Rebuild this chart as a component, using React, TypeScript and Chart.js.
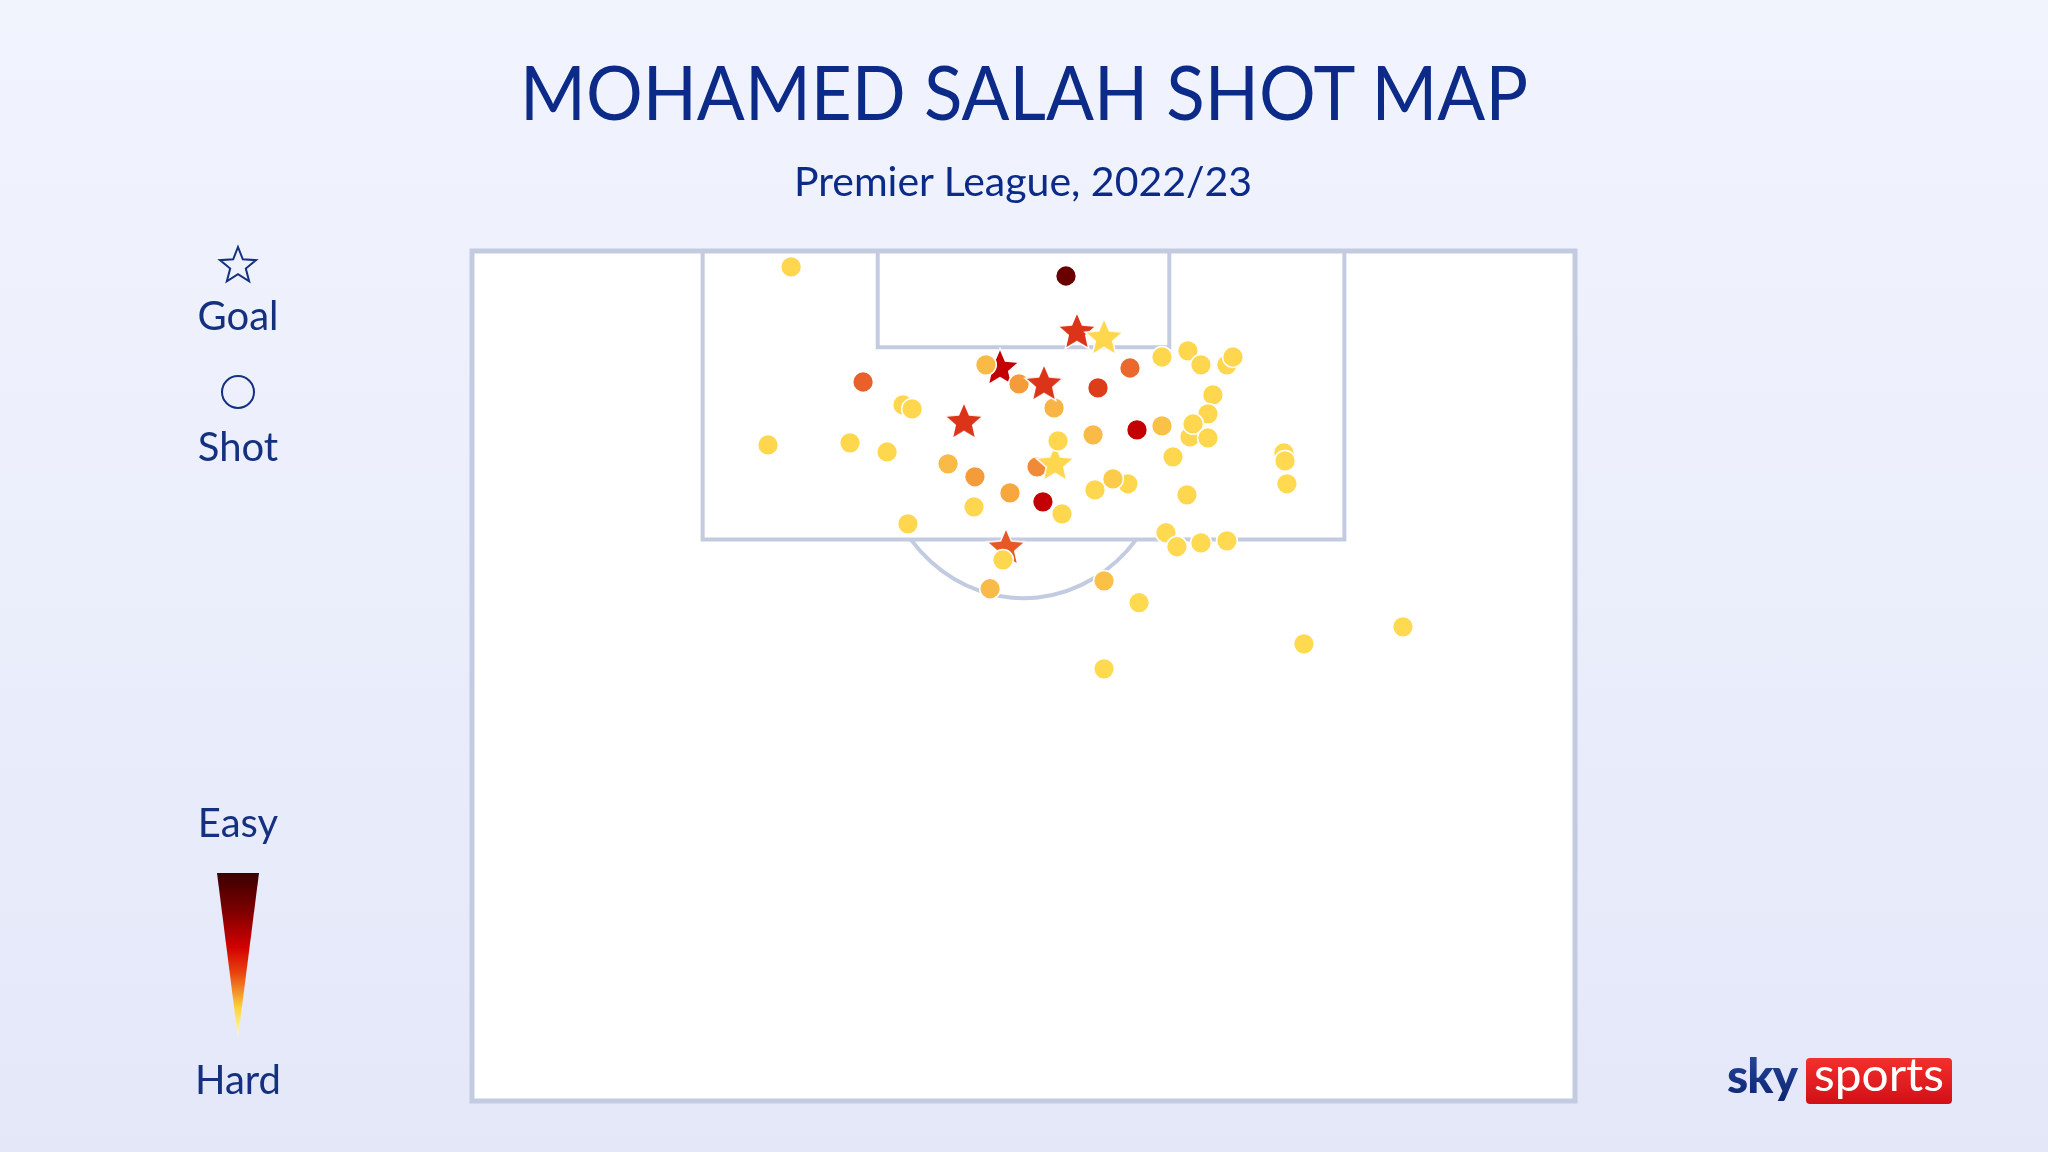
import React, { useEffect, useRef } from "react";
import { Chart, registerables } from "chart.js";

Chart.register(...registerables);

const TITLE = "MOHAMED SALAH SHOT MAP";
const SUBTITLE = "Premier League, 2022/23";
const LEGEND_GOAL = "Goal";
const LEGEND_SHOT = "Shot";
const SCALE_TOP = "Easy";
const SCALE_BOTTOM = "Hard";

// pitch geometry (metres)
const PITCH_WIDTH = 69.3;
const PITCH_DEPTH = 48.6;
const BOX_WIDTH = 40.32;
const BOX_DEPTH = 16.5;
const SIX_WIDTH = 18.32;
const SIX_DEPTH = 5.5;
const SPOT_DIST = 10.7;
const ARC_RADIUS = 9.15;

// shots: x = metres from centre line of pitch (left negative), y = metres from goal line
const SHOT_X = [
  -14.6, 2.67, -10.08, -7.57, -7.0, -16.05, -10.9, -8.57, -1.48, -2.36,
  -0.28, 1.92, 1.29, -3.74, -4.74, -3.05, -0.85, -3.11, 0.85, 1.98,
  1.22, 2.42, 2.17, 3.36, 5.06, 6.69, 4.68, 8.7, 10.33, 11.15,
  12.78, 13.16, 11.9, 11.59, 10.46, 10.65, 11.59, 8.7, 7.13, 4.37,
  9.39, 16.36, 16.43, 16.55, 4.49, 6.56, 5.62, 10.27, -7.26, -1.1,
  -1.29, -2.1, 8.95, 9.64, 11.15, 12.78, 5.06, 7.26, 17.62, 23.84,
  5.06,
];
const SHOT_Y = [
  0.91, 1.43, 7.49, 8.8, 9.03, 11.09, 10.97, 11.49, 6.63, 6.51,
  7.6, 8.97, 7.54, 9.71, 12.17, 12.91, 13.83, 14.63, 12.34, 12.11,
  14.34, 15.03, 10.86, 4.57, 4.91, 6.69, 7.83, 6.06, 5.71, 6.51,
  6.51, 6.06, 8.23, 9.31, 10.63, 9.89, 10.69, 10.0, 10.23, 10.51,
  11.77, 11.54, 12.0, 13.31, 13.66, 13.31, 13.03, 13.94, 15.6, 16.91,
  17.66, 19.31, 16.11, 16.91, 16.69, 16.57, 18.86, 20.11, 22.46, 21.49,
  23.89,
];
const SHOT_XG = [
  0.04, 0.8, 0.25, 0.04, 0.04, 0.04, 0.04, 0.04, 0.5, 0.1,
  0.15, 0.11, 0.35, 0.35, 0.1, 0.15, 0.13, 0.04, 0.19, 0.04,
  0.5, 0.04, 0.04, 0.35, 0.04, 0.24, 0.33, 0.04, 0.04, 0.04,
  0.04, 0.04, 0.04, 0.04, 0.04, 0.04, 0.04, 0.09, 0.5, 0.1,
  0.04, 0.03, 0.03, 0.03, 0.04, 0.04, 0.07, 0.04, 0.04, 0.27,
  0.04, 0.1, 0.03, 0.03, 0.03, 0.03, 0.09, 0.03, 0.03, 0.03,
  0.03,
];
const SHOT_GOAL = [
  0, 0, 0, 0, 0, 0, 0, 0, 1, 0,
  0, 0, 1, 1, 0, 0, 0, 0, 0, 1,
  0, 0, 0, 1, 1, 0, 0, 0, 0, 0,
  0, 0, 0, 0, 0, 0, 0, 0, 0, 0,
  0, 0, 0, 0, 0, 0, 0, 0, 0, 1,
  0, 0, 0, 0, 0, 0, 0, 0, 0, 0,
  0,
];

// colour scale (xG -> colour)
const XG_STOPS = [0.0, 0.05, 0.1, 0.15, 0.2, 0.25, 0.35, 0.5, 0.8];
const COLOR_STOPS = [
  "#ffdd55", "#ffd64d", "#f9ba47", "#f49c3a", "#f08636",
  "#e8612a", "#dc3418", "#c30004", "#680000",
];

const NAVY = "#0c2a88";
const TEXT_NAVY = "#14307f";
const LINE_COLOR = "#c3cbe1";
const FONT = "Lato, 'Open Sans', sans-serif";

function hexToRgb(h: string) {
  const v = parseInt(h.slice(1), 16);
  return [(v >> 16) & 255, (v >> 8) & 255, v & 255];
}

function xgColor(xg: number): string {
  if (xg <= XG_STOPS[0]) return COLOR_STOPS[0];
  for (let i = 1; i < XG_STOPS.length; i++) {
    if (xg <= XG_STOPS[i]) {
      const t = (xg - XG_STOPS[i - 1]) / (XG_STOPS[i] - XG_STOPS[i - 1]);
      const a = hexToRgb(COLOR_STOPS[i - 1]);
      const b = hexToRgb(COLOR_STOPS[i]);
      const c = a.map((v, k) => Math.round(v + (b[k] - v) * t));
      return `rgb(${c[0]},${c[1]},${c[2]})`;
    }
  }
  return COLOR_STOPS[COLOR_STOPS.length - 1];
}

function starPath(ctx: CanvasRenderingContext2D, cx: number, cy: number, R: number, r: number) {
  ctx.beginPath();
  for (let i = 0; i < 10; i++) {
    const ang = -Math.PI / 2 + (i * Math.PI) / 5;
    const rad = i % 2 === 0 ? R : r;
    const px = cx + rad * Math.cos(ang);
    const py = cy + rad * Math.sin(ang);
    if (i === 0) ctx.moveTo(px, py);
    else ctx.lineTo(px, py);
  }
  ctx.closePath();
}

function starPoints(cx: number, cy: number, R: number, r: number) {
  const pts: string[] = [];
  for (let i = 0; i < 10; i++) {
    const ang = -Math.PI / 2 + (i * Math.PI) / 5;
    const rad = i % 2 === 0 ? R : r;
    pts.push(`${(cx + rad * Math.cos(ang)).toFixed(2)},${(cy + rad * Math.sin(ang)).toFixed(2)}`);
  }
  return pts.join(" ");
}

const starCache: Record<string, HTMLCanvasElement> = {};
function starCanvas(color: string) {
  if (starCache[color]) return starCache[color];
  const R = 20;
  const size = Math.ceil(2 * R + 6);
  const c = document.createElement("canvas");
  c.width = size;
  c.height = size;
  const ctx = c.getContext("2d")!;
  starPath(ctx, size / 2, size / 2 + 1.5, R, R * 0.46);
  ctx.fillStyle = color;
  ctx.fill();
  ctx.lineWidth = 1.5;
  ctx.strokeStyle = "#ffffff";
  ctx.lineJoin = "miter";
  ctx.stroke();
  starCache[color] = c;
  return c;
}

const pitchPlugin = {
  id: "pitch",
  beforeDatasetsDraw(chart: any) {
    const { ctx, chartArea: a, scales } = chart;
    const sx = scales.x;
    const sy = scales.y;
    ctx.save();
    ctx.fillStyle = "#ffffff";
    ctx.fillRect(a.left, a.top, a.right - a.left, a.bottom - a.top);
    ctx.strokeStyle = LINE_COLOR;
    ctx.lineWidth = 4;
    ctx.lineJoin = "miter";
    const openBox = (w: number, d: number) => {
      const l = sx.getPixelForValue(-w / 2);
      const r = sx.getPixelForValue(w / 2);
      const t = sy.getPixelForValue(0);
      const b = sy.getPixelForValue(d);
      ctx.beginPath();
      ctx.moveTo(l, t);
      ctx.lineTo(l, b);
      ctx.lineTo(r, b);
      ctx.lineTo(r, t);
      ctx.stroke();
    };
    openBox(BOX_WIDTH, BOX_DEPTH);
    openBox(SIX_WIDTH, SIX_DEPTH);
    const cx = sx.getPixelForValue(0);
    const cy = sy.getPixelForValue(SPOT_DIST);
    const rx = Math.abs(sx.getPixelForValue(ARC_RADIUS) - cx);
    const ry = Math.abs(sy.getPixelForValue(SPOT_DIST + ARC_RADIUS) - cy);
    const th = Math.asin((BOX_DEPTH - SPOT_DIST) / ARC_RADIUS);
    ctx.beginPath();
    ctx.ellipse(cx, cy, rx, ry, 0, th, Math.PI - th);
    ctx.stroke();
    ctx.lineWidth = 5;
    ctx.strokeRect(a.left, a.top, a.right - a.left, a.bottom - a.top);
    ctx.restore();
  },
};

function ShotChart() {
  const ref = useRef<HTMLCanvasElement>(null);
  useEffect(() => {
    if (!ref.current) return;
    const points = SHOT_X.map((x, i) => ({ x, y: SHOT_Y[i] }));
    const colors = SHOT_XG.map((v) => xgColor(v));
    const chart = new Chart(ref.current, {
      type: "scatter",
      data: {
        datasets: [
          {
            data: points,
            pointStyle: (c: any) => (SHOT_GOAL[c.dataIndex] ? starCanvas(colors[c.dataIndex]) : "circle"),
            backgroundColor: (c: any) => colors[c.dataIndex],
            borderColor: "#ffffff",
            borderWidth: 1.5,
            pointRadius: 10.4,
            pointHoverRadius: 10.4,
          } as any,
        ],
      },
      options: {
        animation: false,
        responsive: false,
        maintainAspectRatio: false,
        layout: { padding: { left: 472, right: 473, top: 251, bottom: 51 } },
        scales: {
          x: { type: "linear", min: -PITCH_WIDTH / 2, max: PITCH_WIDTH / 2, display: false },
          y: { type: "linear", min: 0, max: PITCH_DEPTH, reverse: true, display: false },
        },
        plugins: {
          legend: { display: false },
          tooltip: { enabled: false },
          title: { display: false },
        },
        events: [],
      },
      plugins: [pitchPlugin],
    });
    return () => chart.destroy();
  }, []);
  return (
    <canvas
      ref={ref}
      width={2048}
      height={1152}
      style={{ position: "absolute", left: 0, top: 0, width: 2048, height: 1152 }}
    />
  );
}

function Overlay() {
  return (
    <svg
      width={2048}
      height={1152}
      style={{ position: "absolute", left: 0, top: 0, pointerEvents: "none" }}
    >
      <defs>
        <linearGradient id="easyHard" x1="0" y1="0" x2="0" y2="1">
          <stop offset="0%" stopColor="#3a0000" />
          <stop offset="22%" stopColor="#7a0000" />
          <stop offset="45%" stopColor="#d20000" />
          <stop offset="60%" stopColor="#e8400f" />
          <stop offset="72%" stopColor="#f29028" />
          <stop offset="82%" stopColor="#ffd43c" />
          <stop offset="92%" stopColor="#ffeb8a" />
          <stop offset="100%" stopColor="#fff6d6" />
        </linearGradient>
        <linearGradient id="skyRed" x1="0" y1="0" x2="0" y2="1">
          <stop offset="0%" stopColor="#f3302c" />
          <stop offset="100%" stopColor="#d20f16" />
        </linearGradient>
        <linearGradient id="skyNavy" x1="0" y1="0" x2="0" y2="1">
          <stop offset="0%" stopColor="#2a4aa0" />
          <stop offset="100%" stopColor="#0c2470" />
        </linearGradient>
      </defs>
      <text
        x={1024}
        y={120}
        textAnchor="middle"
        fontFamily={FONT}
        fontSize={76}
        fill={NAVY}
        textLength={1008}
        lengthAdjust="spacingAndGlyphs"
      >
        {TITLE}
      </text>
      <text x={1023} y={196} textAnchor="middle" fontFamily={FONT} fontSize={41} fill={NAVY}>
        {SUBTITLE}
      </text>

      <polygon points={starPoints(238, 266, 19, 8.2)} fill="none" stroke={TEXT_NAVY} strokeWidth={2} />
      <text x={238} y={330} textAnchor="middle" fontFamily={FONT} fontSize={40} fill={TEXT_NAVY}>
        {LEGEND_GOAL}
      </text>
      <circle cx={238} cy={392} r={16} fill="none" stroke={TEXT_NAVY} strokeWidth={2} />
      <text x={238} y={461} textAnchor="middle" fontFamily={FONT} fontSize={40} fill={TEXT_NAVY}>
        {LEGEND_SHOT}
      </text>

      <text x={238} y={837} textAnchor="middle" fontFamily={FONT} fontSize={40} fill={TEXT_NAVY}>
        {SCALE_TOP}
      </text>
      <polygon points="217,873 259,873 238,1038" fill="url(#easyHard)" />
      <text x={238} y={1094} textAnchor="middle" fontFamily={FONT} fontSize={40} fill={TEXT_NAVY}>
        {SCALE_BOTTOM}
      </text>

      <text x={1727} y={1093} fontFamily={FONT} fontSize={48} fontWeight={900} fill="url(#skyNavy)" letterSpacing={-1}>
        sky
      </text>
      <rect x={1806} y={1058} width={146} height={46} rx={4} fill="url(#skyRed)" />
      <text
        x={1879}
        y={1091}
        textAnchor="middle"
        fontFamily={FONT}
        fontSize={47}
        fill="#ffffff"
        textLength={130}
        lengthAdjust="spacingAndGlyphs"
      >
        sports
      </text>
    </svg>
  );
}

export default function App() {
  return (
    <div
      style={{
        position: "fixed",
        left: 0,
        top: 0,
        width: 2048,
        height: 1152,
        overflow: "hidden",
        background: "linear-gradient(180deg, #f1f4fd 0%, #eaeefb 55%, #e3e7f8 100%)",
      }}
    >
      <ShotChart />
      <Overlay />
    </div>
  );
}
